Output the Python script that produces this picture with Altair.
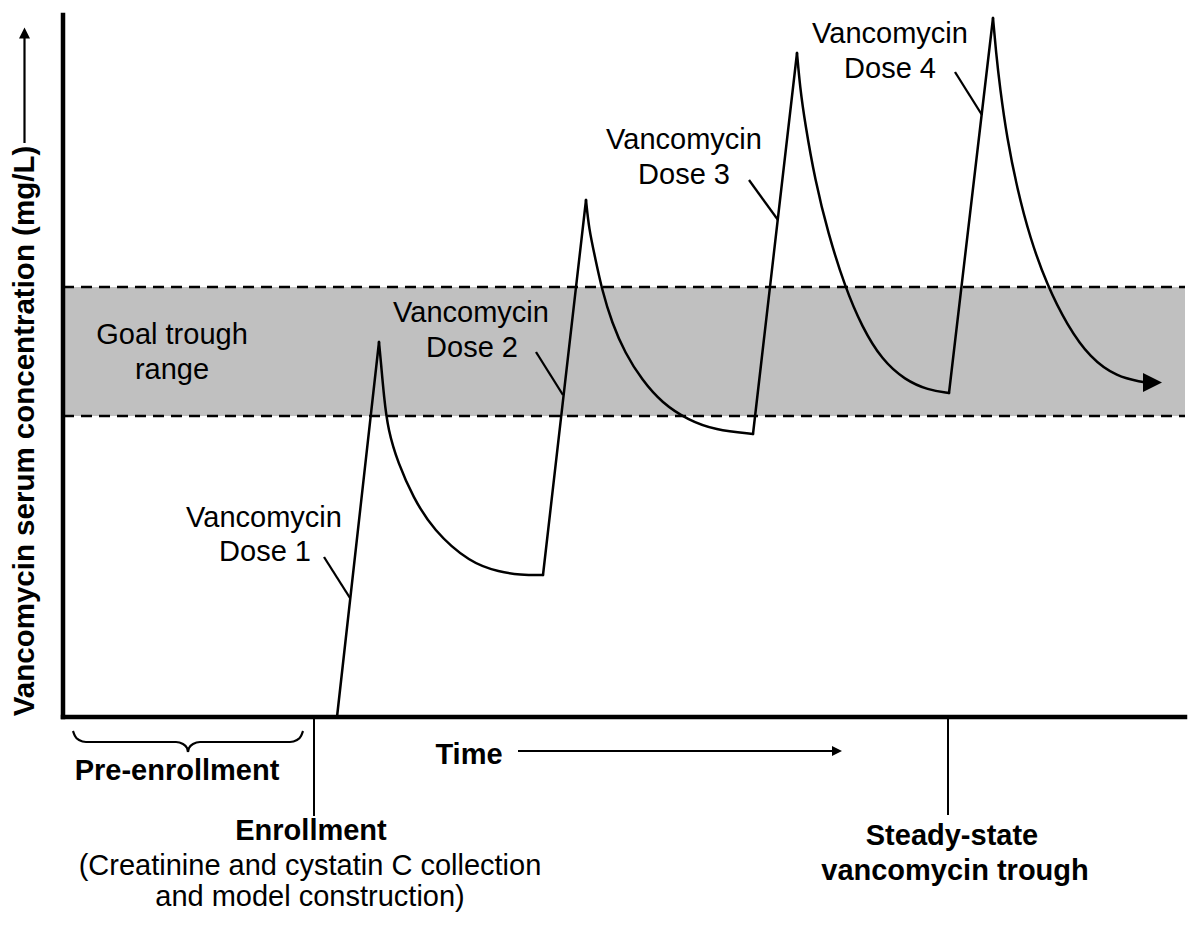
import altair as alt
import pandas as pd

FONT = "Liberation Sans"

# ---- data (time and concentration in arbitrary schematic units) ----
dose_ids = [1, 2, 3, 4]
rise_start_t = [27.4, 48.0, 69.0, 88.6]
rise_start_c = [0.0, 14.2, 28.3, 32.4]
peak_t = [31.6, 52.3, 73.4, 93.0]
peak_c = [37.5, 51.7, 66.4, 69.9]

decay1_t = [31.6, 31.8, 32.1, 32.5, 33.5, 35.0, 37.0, 40.7, 43.7, 45.7, 48.0]
decay1_c = [37.5, 35.4, 32.0, 28.7, 25.4, 22.0, 18.7, 15.4, 14.5, 14.2, 14.2]
decay2_t = [52.3, 52.6, 53.2, 53.9, 54.9, 56.2, 57.9, 59.9, 62.5, 65.2, 69.0]
decay2_c = [51.7, 48.8, 46.0, 42.7, 39.4, 36.4, 33.7, 31.4, 29.7, 28.7, 28.3]
decay3_t = [73.4, 73.7, 74.2, 75.2, 76.5, 78.2, 79.9, 81.9, 84.2, 86.5, 88.6]
decay3_c = [66.4, 63.0, 59.4, 53.7, 48.4, 43.0, 39.0, 35.7, 33.7, 32.7, 32.4]
decay4_t = [93.0, 93.3, 93.7, 94.4, 95.4, 96.7, 98.4, 100.4, 102.7, 105.4, 108.0]
decay4_c = [69.9, 66.5, 62.9, 57.9, 52.9, 47.9, 43.2, 39.2, 35.9, 34.0, 33.5]
end_arrow_t = [108.95]
end_arrow_c = [33.45]

goal_low = 30.1
goal_high = 43.0
t_max = 112.2
c_max = 70.2

# leader lines from dose labels to the curve
leader_t0 = [26.1, 47.3, 68.6, 89.2]
leader_c0 = [16.0, 36.5, 53.7, 64.5]
leader_t1 = [28.7, 50.0, 71.5, 91.9]
leader_c1 = [11.9, 32.2, 49.7, 60.2]

# event markers below the time axis
marker_t = [25.1, 88.5]
marker_c_end = [-9.9, -9.8]

# brace under the pre-enrollment period
brace_left_t = [1.0, 1.2, 1.6, 2.3, 11.3, 12.0, 12.4, 12.5]
brace_left_c = [-1.4, -1.9, -2.3, -2.5, -2.5, -2.7, -3.1, -3.5]
brace_right_t = [12.5, 12.6, 13.0, 13.7, 22.7, 23.4, 23.8, 24.0]
brace_right_c = [-3.5, -3.1, -2.7, -2.5, -2.5, -2.3, -1.9, -1.4]

# time arrow and concentration arrow
time_arrow_t = [45.5, 77.0]
time_arrow_c = -3.4
time_head_t = 77.4
conc_arrow_t = -3.85
conc_arrow_c = [57.4, 68.1]
conc_head_c = 68.4

regular_text = ["Vancomycin", "Dose 1", "Vancomycin", "Dose 2",
                "Vancomycin", "Dose 3", "Vancomycin", "Dose 4",
                "Goal trough", "range",
                "(Creatinine and cystatin C collection", "and model construction)"]
regular_t = [20.1, 20.2, 40.8, 40.9, 62.1, 62.1, 82.7, 82.7, 10.9, 10.9, 24.7, 24.7]
regular_c = [19.9, 16.5, 40.4, 36.9, 57.7, 54.2, 68.3, 64.8, 38.2, 34.7, -14.9, -18.0]

bold_text = ["Pre-enrollment", "Time", "Enrollment", "Steady-state", "vancomycin trough"]
bold_t = [11.4, 40.6, 24.8, 88.9, 89.2]
bold_c = [-5.4, -3.8, -11.4, -11.9, -15.4]

ylabel_text = ["Vancomycin serum concentration (mg/L)"]
ylabel_t = [-3.8]
ylabel_c = [28.6]

# ---- scales ----
xs = alt.Scale(domain=[-5.5, 112.9], nice=False, zero=False)
ys = alt.Scale(domain=[-19.6, 70.9], nice=False, zero=False)


def X(f="t"):
    return alt.X(f"{f}:Q", scale=xs, axis=None)


def Y(f="c"):
    return alt.Y(f"{f}:Q", scale=ys, axis=None)


# ---- tables ----
band_df = pd.DataFrame({"t": [0.0], "t2": [t_max], "c": [goal_low], "c2": [goal_high]})
dash_df = pd.DataFrame({"t": [0.0, 0.0], "t2": [t_max, t_max], "c": [goal_low, goal_high]})
axes_df = pd.DataFrame({"t": [0.0, 0.0], "t2": [0.0, t_max], "c": [0.0, 0.0], "c2": [c_max, 0.0]})

rise_rows = []
for d, t0, c0, t1, c1 in zip(dose_ids, rise_start_t, rise_start_c, peak_t, peak_c):
    rise_rows.append({"dose": d, "t": t0, "c": c0, "t2": t1, "c2": c1})
rise_df = pd.DataFrame(rise_rows)

decay_rows = []
for d, ts, cs in zip(dose_ids, [decay1_t, decay2_t, decay3_t, decay4_t],
                     [decay1_c, decay2_c, decay3_c, decay4_c]):
    for i, (t, c) in enumerate(zip(ts, cs)):
        decay_rows.append({"dose": d, "seq": i, "t": t, "c": c})
decay_df = pd.DataFrame(decay_rows)

end_df = pd.DataFrame({"t": end_arrow_t, "c": end_arrow_c})

leader_df = pd.DataFrame({"t": leader_t0, "c": leader_c0, "t2": leader_t1, "c2": leader_c1})
marker_df = pd.DataFrame({"t": marker_t, "c": [0.0, 0.0], "c2": marker_c_end})

brace_rows = []
for part, ts, cs in [("L", brace_left_t, brace_left_c), ("R", brace_right_t, brace_right_c)]:
    for i, (t, c) in enumerate(zip(ts, cs)):
        brace_rows.append({"part": part, "seq": i, "t": t, "c": c})
brace_df = pd.DataFrame(brace_rows)

time_line_df = pd.DataFrame({"t": [time_arrow_t[0]], "t2": [time_arrow_t[1]], "c": [time_arrow_c]})
time_head_df = pd.DataFrame({"t": [time_head_t], "c": [time_arrow_c]})
conc_line_df = pd.DataFrame({"t": [conc_arrow_t], "c": [conc_arrow_c[0]], "c2": [conc_arrow_c[1]]})
conc_head_df = pd.DataFrame({"t": [conc_arrow_t], "c": [conc_head_c]})

reg_df = pd.DataFrame({"label": regular_text, "t": regular_t, "c": regular_c})
bold_df = pd.DataFrame({"label": bold_text, "t": bold_t, "c": bold_c})
ylab_df = pd.DataFrame({"label": ylabel_text, "t": ylabel_t, "c": ylabel_c})

# ---- layers ----
band = alt.Chart(band_df).mark_rect(color="#c0c0c0").encode(x=X(), x2="t2", y=Y(), y2="c2")
dashes = alt.Chart(dash_df).mark_rule(color="black", strokeWidth=2.5, strokeDash=[11, 7]).encode(
    x=X(), x2="t2", y=Y())
axes = alt.Chart(axes_df).mark_rule(color="black", strokeWidth=4.5, strokeCap="square").encode(
    x=X(), x2="t2", y=Y(), y2="c2")

rises = alt.Chart(rise_df).mark_rule(color="black", strokeWidth=2.5, strokeCap="round").encode(
    x=X(), x2="t2", y=Y(), y2="c2")
decays = alt.Chart(decay_df).mark_line(color="black", strokeWidth=2.5, interpolate="basis",
                                       strokeCap="round").encode(
    x=X(), y=Y(), detail="dose:N", order="seq:Q")
end_head = alt.Chart(end_df).mark_point(shape="M-1,-1L1,0L-1,1Z", filled=True, size=361,
                                        color="black", opacity=1, strokeWidth=0).encode(x=X(), y=Y())

leaders = alt.Chart(leader_df).mark_rule(color="black", strokeWidth=2.3).encode(
    x=X(), x2="t2", y=Y(), y2="c2")
markers = alt.Chart(marker_df).mark_rule(color="black", strokeWidth=2).encode(
    x=X(), y=Y(), y2="c2")
brace = alt.Chart(brace_df).mark_line(color="black", strokeWidth=2.2, interpolate="monotone").encode(
    x=X(), y=Y(), detail="part:N", order="seq:Q")

time_line = alt.Chart(time_line_df).mark_rule(color="black", strokeWidth=2.2).encode(
    x=X(), x2="t2", y=Y())
time_head = alt.Chart(time_head_df).mark_point(shape="M-1,-1L1,0L-1,1Z", filled=True, size=100,
                                               color="black", opacity=1, strokeWidth=0).encode(x=X(), y=Y())
conc_line = alt.Chart(conc_line_df).mark_rule(color="black", strokeWidth=2.2).encode(
    x=X(), y=Y(), y2="c2")
conc_head = alt.Chart(conc_head_df).mark_point(shape="M-1,1L0,-1L1,1Z", filled=True, size=121,
                                               color="black", opacity=1, strokeWidth=0).encode(x=X(), y=Y())

reg_text = alt.Chart(reg_df).mark_text(font=FONT, fontSize=29, color="black", align="center",
                                       baseline="middle").encode(x=X(), y=Y(), text="label:N")
bold_txt = alt.Chart(bold_df).mark_text(font=FONT, fontSize=29, fontWeight="bold", color="black",
                                        align="center", baseline="middle").encode(
    x=X(), y=Y(), text="label:N")
ylab = alt.Chart(ylab_df).mark_text(font=FONT, fontSize=29.5, fontWeight="bold", color="black",
                                    align="center", baseline="middle", angle=270).encode(
    x=X(), y=Y(), text="label:N")

chart = alt.layer(
    band, dashes, axes, rises, decays, end_head, leaders, markers, brace,
    time_line, time_head, conc_line, conc_head, reg_text, bold_txt, ylab
).properties(
    width=1184, height=905, padding=0,
    autosize=alt.AutoSizeParams(type="none"),
    background="white",
).configure_view(stroke=None)

chart.save("out.html", embed_options={"renderer": "svg", "actions": False})
